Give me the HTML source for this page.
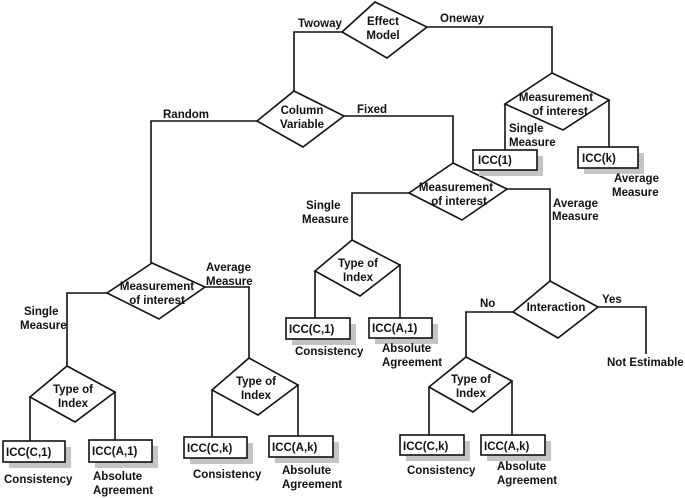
<!DOCTYPE html>
<html><head><meta charset="utf-8"><style>
html,body{margin:0;padding:0;background:#fff;}
svg{display:block;}
text{font-family:"Liberation Sans",Arial,sans-serif;font-weight:bold;font-size:11.5px;fill:#111;}
.l{fill:none;stroke:#111;stroke-width:1.6;}
.d{fill:#fff;stroke:#111;stroke-width:1.6;}
.s{fill:#c4c4c4;}
.b{fill:#fff;stroke:#111;stroke-width:1.6;}
</style></head><body>
<svg width="685" height="498" viewBox="0 0 685 498">
<!-- connectors -->
<polyline class="l" points="342,32 294,32 294,91"/>
<polyline class="l" points="427,27 552,27 552,73"/>
<polyline class="l" points="505,104 505,150"/>
<polyline class="l" points="609,100 609,147"/>
<polyline class="l" points="257,121 151,121 151,263"/>
<polyline class="l" points="344,116 453,116 453,163"/>
<polyline class="l" points="409,193 352,193 352,240"/>
<polyline class="l" points="507,189 550,189 550,281"/>
<polyline class="l" points="315,271 315,318"/>
<polyline class="l" points="400,265 400,318"/>
<polyline class="l" points="513,312 466,312 466,357"/>
<polyline class="l" points="598,307 646,307 646,354"/>
<polyline class="l" points="429,387 429,435"/>
<polyline class="l" points="512,381 512,435"/>
<polyline class="l" points="107,293 67,293 67,366"/>
<polyline class="l" points="205,287 249,287 249,358"/>
<polyline class="l" points="30,397 30,442"/>
<polyline class="l" points="115,392 115,440"/>
<polyline class="l" points="212,390 212,437"/>
<polyline class="l" points="298,385 298,436"/>
<!-- diamonds -->
<polygon class="d" points="375,2 427,27 387,58 342,32"/>
<polygon class="d" points="552,73 609,100 563,130 505,104"/>
<polygon class="d" points="294,91 344,116 303,147 257,121"/>
<polygon class="d" points="453,163 507,189 462,220 409,193"/>
<polygon class="d" points="352,240 400,265 360,296 315,271"/>
<polygon class="d" points="550,281 598,307 558,338 513,312"/>
<polygon class="d" points="466,357 512,381 473,412 429,387"/>
<polygon class="d" points="152,263 205,287 159,319 107,293"/>
<polygon class="d" points="67,366 115,392 75,422 30,397"/>
<polygon class="d" points="249,358 298,385 258,415 212,390"/>
<!-- boxes -->
<rect class="s" x="479" y="156" width="64" height="20"/><rect class="b" x="473" y="150" width="64" height="20"/>
<rect class="s" x="584" y="153" width="60" height="21"/><rect class="b" x="578" y="147" width="60" height="21"/>
<rect class="s" x="292" y="324" width="64" height="21"/><rect class="b" x="286" y="318" width="64" height="21"/>
<rect class="s" x="375" y="324" width="63" height="20"/><rect class="b" x="369" y="318" width="63" height="20"/>
<rect class="s" x="406" y="441" width="64" height="20"/><rect class="b" x="400" y="435" width="64" height="20"/>
<rect class="s" x="487" y="441" width="64" height="20"/><rect class="b" x="481" y="435" width="64" height="20"/>
<rect class="s" x="9" y="447" width="62" height="21"/><rect class="b" x="3" y="441" width="62" height="21"/>
<rect class="s" x="95" y="446" width="63" height="22"/><rect class="b" x="89" y="440" width="63" height="22"/>
<rect class="s" x="190" y="443" width="63" height="21"/><rect class="b" x="184" y="437" width="63" height="21"/>
<rect class="s" x="275" y="442" width="64" height="21"/><rect class="b" x="269" y="436" width="64" height="21"/>
<!-- box labels -->
<text x="478" y="164">ICC(1)</text>
<text x="582" y="162">ICC(k)</text>
<text x="289" y="333">ICC(C,1)</text>
<text x="372" y="332">ICC(A,1)</text>
<text x="403" y="450">ICC(C,k)</text>
<text x="484" y="450">ICC(A,k)</text>
<text x="6" y="456">ICC(C,1)</text>
<text x="92" y="455">ICC(A,1)</text>
<text x="187" y="452">ICC(C,k)</text>
<text x="272" y="451">ICC(A,k)</text>
<!-- diamond labels -->
<g text-anchor="middle">
<text x="383" y="25">Effect</text><text x="383" y="39">Model</text>
<text x="556" y="101">Measurement</text><text x="560" y="115">of interest</text>
<text x="302" y="114">Column</text><text x="302" y="128">Variable</text>
<text x="456" y="191">Measurement</text><text x="459" y="205">of interest</text>
<text x="358" y="267">Type of</text><text x="358" y="281">Index</text>
<text x="556" y="311">Interaction</text>
<text x="471" y="383">Type of</text><text x="471" y="397">Index</text>
<text x="157" y="290">Measurement</text><text x="157" y="304">of interest</text>
<text x="73" y="393">Type of</text><text x="73" y="407">Index</text>
<text x="256" y="385">Type of</text><text x="256" y="399">Index</text>
</g>
<!-- edge labels -->
<text x="298" y="27">Twoway</text>
<text x="440" y="22">Oneway</text>
<text x="163" y="118">Random</text>
<text x="357" y="113">Fixed</text>
<text x="509" y="132">Single</text><text x="509" y="146">Measure</text>
<text x="614" y="182">Average</text><text x="612" y="196">Measure</text>
<text x="306" y="209">Single</text><text x="302" y="223">Measure</text>
<text x="553" y="207">Average</text><text x="552" y="220">Measure</text>
<text x="480" y="307">No</text>
<text x="602" y="303">Yes</text>
<text x="607" y="366">Not Estimable</text>
<text x="295" y="355">Consistency</text>
<text x="382" y="352">Absolute</text><text x="382" y="366">Agreement</text>
<text x="407" y="474">Consistency</text>
<text x="497" y="470">Absolute</text><text x="497" y="484">Agreement</text>
<text x="24" y="315">Single</text><text x="20" y="329">Measure</text>
<text x="206" y="271">Average</text><text x="206" y="285">Measure</text>
<text x="4" y="483">Consistency</text>
<text x="93" y="480">Absolute</text><text x="93" y="494">Agreement</text>
<text x="193" y="478">Consistency</text>
<text x="282" y="474">Absolute</text><text x="282" y="488">Agreement</text>
</svg>
</body></html>
